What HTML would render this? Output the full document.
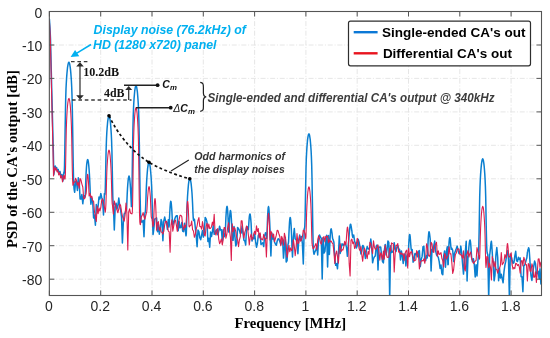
<!DOCTYPE html>
<html><head><meta charset="utf-8"><title>PSD of the CA's output</title>
<style>html,body{margin:0;padding:0;background:#fff;}svg{display:block;}</style></head>
<body>
<svg width="550" height="338" viewBox="0 0 550 338">
<rect width="550" height="338" fill="#fff"/>
<path d="M100.7,11.5 V295.5 M152.0,11.5 V295.5 M203.3,11.5 V295.5 M254.6,11.5 V295.5 M305.9,11.5 V295.5 M357.2,11.5 V295.5 M408.5,11.5 V295.5 M459.8,11.5 V295.5 M511.1,11.5 V295.5 M49.35,45.0 H541.5 M49.35,78.4 H541.5 M49.35,111.9 H541.5 M49.35,145.3 H541.5 M49.35,178.8 H541.5 M49.35,212.3 H541.5 M49.35,245.7 H541.5 M49.35,279.2 H541.5" stroke="#e3e3e3" stroke-width="0.9" stroke-dasharray="5 1.8 1 1.8" fill="none"/>
<clipPath id="c"><rect x="49.35" y="11.5" width="492.15" height="284.0"/></clipPath>
<g clip-path="url(#c)" fill="none" stroke-linejoin="round" stroke-linecap="round">
<path d="M49.40,19.0 L50.00,28.0 L50.50,39.0 L51.50,80.0 L53.30,150.0 L53.80,174.6 L55.20,166.0 L56.00,169.0 L56.60,167.5 L57.40,171.0 L58.20,169.5 L59.00,174.0 L60.00,171.5 L61.00,177.0 L62.00,174.5 L62.80,181.0 L63.40,178.0 L63.90,172.0 L64.20,173.3 L64.50,166.2 L64.80,150.4 L65.10,131.1 L65.40,113.9 L65.70,98.4 L66.00,89.0 L66.30,83.0 L66.60,78.0 L66.90,74.0 L67.20,70.7 L67.50,67.7 L68.10,64.1 L68.40,63.1 L68.70,62.4 L69.00,62.2 L69.60,63.5 L70.20,67.1 L70.50,69.7 L70.80,72.9 L71.10,76.7 L71.40,81.0 L71.70,87.0 L72.00,95.3 L72.30,108.4 L72.60,125.1 L72.90,144.3 L73.20,162.9 L73.50,177.6 L73.80,184.9 L74.10,189.1 L74.40,191.0 L74.70,192.3 L75.60,181.4 L76.50,181.8 L77.40,190.5 L78.30,177.8 L79.20,181.9 L80.10,199.0 L81.00,199.0 L81.90,194.5 L82.80,203.8 L83.70,195.8 L84.30,195.7 L84.60,195.6 L84.90,197.3 L85.20,196.5 L85.50,188.9 L85.80,179.9 L86.10,173.2 L86.40,168.1 L86.70,164.4 L87.00,162.2 L87.30,160.4 L87.60,159.6 L87.90,159.9 L88.20,160.9 L88.50,163.1 L88.80,165.9 L89.10,169.6 L89.40,174.1 L89.70,179.7 L90.00,186.6 L90.30,194.7 L90.60,199.9 L90.90,204.2 L91.80,198.0 L92.70,201.9 L93.60,218.0 L94.50,215.0 L95.40,225.2 L96.30,204.6 L97.20,209.9 L98.10,206.2 L99.00,197.1 L99.90,199.0 L100.80,193.4 L101.70,197.5 L102.60,200.4 L103.50,215.0 L104.10,200.8 L104.40,193.6 L104.70,194.5 L105.00,194.0 L105.30,188.6 L105.60,175.8 L105.90,159.6 L106.20,146.9 L106.50,138.8 L106.80,132.7 L107.10,128.3 L107.40,124.7 L107.70,121.3 L108.30,117.4 L108.60,116.5 L108.90,115.8 L109.20,116.0 L109.50,116.7 L109.80,118.1 L110.10,120.0 L110.40,122.3 L110.70,125.8 L111.00,129.8 L111.30,134.5 L111.60,140.9 L111.90,150.2 L112.20,165.5 L112.50,182.2 L112.80,196.6 L113.10,203.2 L113.40,204.9 L113.70,213.5 L114.00,221.8 L114.30,230.0 L115.20,207.4 L116.10,203.2 L117.00,209.0 L117.90,205.3 L118.80,198.0 L119.70,206.2 L120.60,209.8 L121.50,216.9 L122.40,243.0 L123.30,222.8 L124.20,213.8 L125.10,213.1 L125.70,210.6 L126.00,209.2 L126.30,210.5 L126.60,208.6 L127.20,194.2 L127.50,188.6 L127.80,184.2 L128.10,180.7 L128.40,178.3 L128.70,176.9 L129.00,176.0 L129.30,176.8 L129.60,178.1 L129.90,180.5 L130.20,184.0 L130.50,188.4 L130.80,193.7 L131.10,200.3 L131.40,206.6 L131.70,202.2 L132.00,188.2 L132.30,168.8 L132.60,148.2 L132.90,130.1 L133.20,116.9 L133.50,108.8 L133.80,102.7 L134.10,98.3 L134.40,94.6 L134.70,91.2 L135.30,87.3 L135.60,86.4 L135.90,85.7 L136.20,85.9 L136.50,86.6 L136.80,88.0 L137.10,89.9 L137.40,92.2 L137.70,95.8 L138.00,99.8 L138.30,104.4 L138.60,111.0 L138.90,120.3 L139.20,136.2 L139.50,154.9 L139.80,176.1 L140.10,195.3 L140.40,209.4 L140.70,217.6 L141.00,220.5 L141.30,221.9 L142.20,222.1 L143.10,220.3 L144.00,236.7 L144.60,221.0 L144.90,213.0 L145.20,212.6 L145.50,210.1 L145.80,203.5 L146.10,194.0 L146.40,186.4 L146.70,180.6 L147.00,176.0 L147.30,172.1 L147.60,168.5 L147.90,166.3 L148.20,164.4 L148.50,163.1 L148.80,162.4 L149.10,162.1 L149.40,162.8 L149.70,163.8 L150.30,167.7 L150.60,171.0 L150.90,174.5 L151.20,178.5 L151.50,184.0 L151.80,190.7 L152.10,199.7 L152.40,212.7 L152.70,224.7 L153.00,234.5 L153.30,233.0 L153.60,230.5 L153.90,227.8 L154.80,218.9 L155.70,218.7 L156.60,217.9 L157.50,231.7 L158.40,224.8 L159.30,234.2 L160.20,229.1 L161.10,219.6 L162.00,222.0 L162.90,240.8 L163.80,221.0 L164.70,217.1 L165.60,221.4 L166.50,222.3 L167.40,229.5 L168.30,219.8 L168.60,223.6 L168.90,227.0 L169.20,225.6 L169.50,218.5 L169.80,212.1 L170.10,207.1 L170.40,203.2 L170.70,201.3 L171.00,201.5 L171.30,203.9 L171.60,207.5 L171.90,211.5 L172.20,218.0 L172.50,222.9 L172.80,225.4 L173.70,221.9 L175.50,217.0 L176.40,215.8 L177.30,215.7 L178.20,230.7 L179.10,221.6 L180.00,227.8 L180.90,227.3 L181.80,222.6 L182.70,231.2 L183.60,231.6 L184.50,223.3 L185.10,227.9 L185.40,230.2 L185.70,233.5 L186.00,235.8 L186.30,234.0 L186.60,223.9 L186.90,211.5 L187.20,203.1 L187.50,197.0 L187.80,192.5 L188.10,188.6 L188.40,185.0 L188.70,182.6 L189.00,180.5 L189.30,179.4 L189.60,178.8 L189.90,178.7 L190.20,179.3 L190.50,180.0 L190.80,181.7 L191.10,183.4 L191.40,186.4 L191.70,189.5 L192.00,193.3 L192.30,198.3 L192.60,204.3 L192.90,211.8 L193.20,217.7 L193.50,220.4 L193.80,220.4 L194.10,219.8 L194.40,219.2 L195.30,227.6 L196.20,235.4 L197.10,246.8 L198.00,230.1 L198.90,231.6 L199.80,237.7 L200.70,239.8 L201.60,235.4 L202.50,230.5 L203.40,237.1 L204.30,231.6 L205.20,217.4 L206.10,218.9 L207.00,222.3 L207.90,241.5 L208.80,238.3 L209.70,247.3 L210.60,231.9 L211.50,236.5 L212.40,231.7 L213.30,225.4 L214.20,234.3 L215.10,232.7 L216.00,230.5 L216.90,229.6 L217.80,234.7 L218.70,231.4 L219.60,226.2 L220.50,230.0 L221.40,229.8 L222.30,241.0 L223.20,229.5 L224.10,236.8 L224.70,235.8 L225.00,235.2 L225.30,232.9 L225.60,225.5 L225.90,217.6 L226.20,213.0 L226.50,209.1 L226.80,206.9 L227.10,206.3 L227.40,207.8 L227.70,211.0 L228.00,216.7 L228.30,223.7 L228.60,232.0 L228.90,232.0 L229.20,225.6 L229.50,219.8 L229.80,215.1 L230.10,212.1 L230.40,210.5 L230.70,211.1 L231.00,213.6 L231.30,217.8 L231.60,223.6 L231.90,231.5 L232.20,239.2 L232.50,240.2 L233.10,240.3 L234.00,226.4 L234.90,236.4 L235.80,246.0 L236.70,243.2 L237.60,227.4 L238.50,228.7 L239.40,230.3 L240.30,233.6 L241.20,232.9 L242.10,226.1 L243.00,233.2 L243.90,240.1 L244.80,240.9 L245.70,245.0 L246.60,226.8 L247.50,227.0 L248.10,229.3 L248.40,229.6 L248.70,225.2 L249.00,220.8 L249.30,216.8 L249.60,214.9 L249.90,214.0 L250.20,214.5 L250.50,216.5 L250.80,219.6 L251.10,223.3 L251.40,230.1 L251.70,236.7 L252.00,241.0 L252.90,237.8 L253.80,238.7 L254.70,234.1 L255.60,241.7 L256.50,247.2 L257.40,243.5 L258.30,235.3 L259.20,233.8 L260.10,234.1 L261.00,244.5 L261.90,243.5 L262.80,242.7 L263.70,246.6 L264.60,236.1 L265.50,232.8 L266.40,235.3 L266.70,238.5 L267.00,234.5 L267.30,225.3 L267.60,217.1 L267.90,211.3 L268.20,207.8 L268.50,206.6 L268.80,207.8 L269.10,211.2 L269.40,216.2 L269.70,222.4 L270.00,229.2 L270.30,240.9 L270.60,248.7 L270.90,256.0 L271.80,233.0 L272.70,239.1 L273.60,237.7 L274.50,242.0 L275.40,244.0 L276.30,245.3 L277.20,241.0 L278.10,238.8 L279.00,239.2 L279.90,241.7 L280.80,244.4 L282.60,239.7 L283.50,258.1 L284.40,247.6 L285.30,237.4 L286.20,262.0 L287.10,260.5 L288.00,244.3 L288.30,243.6 L288.60,241.3 L288.90,234.5 L289.20,228.0 L289.50,222.6 L289.80,219.2 L290.10,217.6 L290.40,217.9 L290.70,220.0 L291.00,223.9 L291.30,229.2 L291.60,235.8 L291.90,245.4 L292.20,251.6 L292.50,256.9 L293.40,237.1 L294.30,228.6 L295.20,239.0 L296.10,239.6 L297.00,243.1 L297.90,253.8 L298.80,239.3 L299.70,235.1 L300.60,240.2 L301.50,236.6 L302.40,243.7 L303.30,264.0 L303.90,240.7 L304.20,228.9 L304.50,228.6 L304.80,226.0 L305.10,217.5 L305.40,201.2 L305.70,183.8 L306.00,168.4 L306.30,159.1 L306.60,152.6 L306.90,147.9 L307.20,143.9 L307.50,140.4 L307.80,138.1 L308.10,136.1 L308.40,134.8 L308.70,134.1 L309.00,133.9 L309.30,134.5 L309.60,135.5 L310.20,139.4 L310.50,142.8 L310.80,146.5 L311.10,150.8 L311.40,156.9 L311.70,165.1 L312.00,178.2 L312.30,196.0 L312.60,215.9 L312.90,233.5 L313.20,246.0 L313.50,251.5 L313.80,253.4 L314.10,254.3 L315.00,251.6 L315.90,249.8 L316.80,245.8 L317.70,255.0 L318.60,238.3 L319.50,234.9 L320.40,237.0 L321.30,238.4 L322.20,279.0 L323.10,237.8 L324.00,253.1 L324.90,251.5 L325.80,241.6 L326.70,235.2 L327.60,267.0 L328.50,235.6 L328.80,242.5 L329.10,249.4 L329.40,254.4 L329.70,246.7 L330.00,240.2 L330.30,234.8 L330.60,231.2 L330.90,229.2 L331.20,228.9 L331.50,230.0 L332.10,233.7 L332.40,236.8 L332.70,238.9 L333.00,239.2 L333.90,242.3 L334.80,258.0 L335.70,265.3 L336.60,263.7 L337.50,268.8 L338.40,255.2 L339.30,235.9 L340.20,253.4 L341.10,248.6 L342.00,243.8 L342.90,245.0 L343.80,245.2 L344.70,242.7 L345.60,243.8 L346.50,247.4 L347.40,256.3 L348.30,244.0 L348.60,241.6 L348.90,238.8 L349.20,234.5 L349.50,231.2 L349.80,228.1 L350.10,225.5 L350.40,224.2 L350.70,224.2 L351.00,225.6 L351.30,227.2 L351.60,229.3 L351.90,231.0 L352.20,234.3 L352.50,236.0 L352.80,237.3 L353.70,235.0 L354.60,241.3 L355.50,243.5 L356.40,248.1 L357.30,245.4 L358.20,239.2 L359.10,242.1 L360.00,246.9 L360.90,254.0 L361.80,251.5 L362.70,245.4 L363.60,246.3 L364.50,252.2 L365.40,258.5 L366.30,250.9 L367.20,246.5 L368.10,248.6 L369.00,249.2 L369.90,247.6 L370.80,239.1 L371.70,246.5 L372.60,262.8 L373.50,258.7 L374.40,256.7 L375.30,255.9 L376.20,246.3 L377.10,245.0 L378.00,270.0 L378.90,246.9 L379.80,247.3 L380.70,247.1 L381.60,255.6 L382.50,261.5 L383.40,262.9 L384.30,250.7 L385.20,244.4 L386.10,254.9 L387.00,249.9 L387.90,241.0 L388.80,242.5 L389.40,280.8 L389.70,298.5 L390.00,281.9 L390.60,245.8 L391.50,252.5 L392.40,252.0 L393.30,250.3 L394.20,242.7 L395.10,249.6 L396.00,251.5 L396.90,247.1 L397.80,245.7 L398.70,248.8 L399.60,249.6 L400.50,259.9 L401.40,250.9 L402.30,255.6 L403.20,263.5 L404.10,255.1 L405.00,253.9 L405.90,266.0 L406.80,256.1 L407.70,254.3 L408.00,256.9 L408.30,253.9 L408.90,241.9 L409.20,237.5 L409.50,234.9 L409.80,234.5 L410.10,236.1 L410.40,239.5 L410.70,243.8 L411.00,247.6 L411.30,249.8 L411.60,250.4 L412.20,249.6 L413.10,262.2 L414.00,260.0 L414.90,253.6 L415.80,254.7 L416.70,252.3 L417.60,256.8 L418.50,251.3 L419.40,250.6 L420.30,266.6 L421.20,259.6 L422.10,256.4 L423.00,246.7 L423.90,246.3 L424.80,260.4 L425.70,260.5 L426.60,255.4 L426.90,256.8 L427.20,258.0 L427.50,255.2 L427.80,247.6 L428.10,241.4 L428.40,236.5 L428.70,233.2 L429.00,231.7 L429.30,232.3 L429.60,234.1 L429.90,236.7 L430.20,239.0 L430.50,250.0 L430.80,261.6 L431.10,271.0 L432.00,249.3 L432.90,251.6 L433.80,245.6 L434.70,241.1 L435.60,250.8 L436.50,254.7 L437.40,256.0 L438.30,257.4 L439.20,261.7 L440.10,268.4 L441.00,265.0 L441.90,273.7 L442.80,274.7 L443.70,255.9 L444.60,250.9 L445.50,267.3 L446.40,251.4 L447.30,246.7 L447.60,256.1 L447.90,264.7 L448.20,264.4 L448.50,254.0 L448.80,247.0 L449.10,242.0 L449.40,239.0 L449.70,237.7 L450.00,237.9 L450.30,240.2 L450.90,247.0 L451.20,249.3 L451.50,249.2 L451.80,248.3 L452.70,250.4 L453.60,261.6 L454.50,253.4 L455.40,250.9 L456.30,248.6 L457.20,246.1 L458.10,250.6 L459.00,253.6 L459.90,253.6 L460.80,246.1 L461.70,253.3 L462.60,264.2 L463.50,274.1 L464.40,260.8 L465.30,252.1 L466.20,241.3 L467.10,281.0 L468.00,257.0 L468.30,255.3 L468.60,251.6 L468.90,247.0 L469.20,244.2 L469.50,241.8 L469.80,240.3 L470.10,240.0 L470.40,241.4 L470.70,243.9 L471.00,248.1 L471.60,257.0 L471.90,259.2 L472.50,261.7 L473.40,258.8 L474.30,264.7 L475.20,277.0 L476.10,264.8 L477.00,276.0 L477.60,266.0 L477.90,261.0 L478.20,258.3 L478.50,254.2 L478.80,246.1 L479.10,232.5 L479.70,197.1 L480.00,186.7 L480.30,179.8 L480.60,174.4 L480.90,170.2 L481.20,166.7 L481.50,163.8 L481.80,161.9 L482.10,160.1 L482.70,158.7 L483.30,160.1 L483.60,161.9 L483.90,163.8 L484.20,166.7 L484.50,170.2 L484.80,174.4 L485.10,179.8 L485.40,186.6 L485.70,196.8 L486.00,213.7 L486.30,230.2 L486.60,243.2 L486.90,250.8 L487.20,253.0 L487.50,253.9 L487.80,254.5 L488.40,284.8 L488.70,298.5 L489.00,286.1 L489.30,271.4 L489.60,255.4 L489.90,253.5 L490.50,247.8 L490.80,244.2 L491.10,242.3 L491.40,241.3 L491.70,244.4 L492.00,248.7 L492.30,253.5 L492.60,258.2 L492.90,260.3 L493.20,261.6 L494.10,280.8 L495.00,274.8 L495.90,255.1 L496.80,247.5 L497.70,257.4 L498.60,280.7 L499.50,268.6 L500.40,278.0 L501.30,274.2 L502.20,278.6 L503.10,282.8 L504.00,271.6 L504.90,265.1 L505.80,261.2 L506.70,253.5 L507.60,250.4 L508.50,259.8 L509.10,286.6 L509.40,298.5 L509.70,284.7 L510.30,254.0 L511.20,256.5 L512.10,260.0 L513.00,263.2 L513.90,262.8 L514.80,256.1 L515.70,251.3 L516.60,260.9 L517.50,261.5 L518.40,257.3 L519.30,259.5 L520.20,258.0 L521.10,276.8 L522.00,276.8 L522.90,291.7 L523.80,265.7 L524.70,265.3 L525.60,262.1 L526.50,258.8 L526.80,258.1 L527.10,255.7 L527.40,252.2 L527.70,251.2 L528.00,249.6 L528.30,248.7 L528.60,247.7 L528.90,248.4 L529.20,250.0 L529.50,254.2 L529.80,258.9 L530.10,263.7 L530.40,268.3 L530.70,272.1 L531.00,275.8 L531.90,280.4 L532.80,271.8 L533.70,266.5 L534.60,261.1 L535.50,263.7 L536.40,274.1 L537.30,273.4 L538.20,271.3 L539.10,278.7 L540.00,268.7 L540.90,284.0 L541.50,284.0" stroke="#0a7fd0" stroke-width="1.5"/>
<path d="M49.40,21.0 L49.90,30.0 L50.40,41.0 L51.30,80.0 L52.10,115.0 L53.00,150.0 L53.50,176.0 L54.90,167.0 L55.70,170.0 L56.30,168.5 L57.10,172.0 L57.90,170.5 L58.70,175.0 L59.70,172.5 L60.70,178.0 L61.70,175.5 L62.50,182.0 L63.10,179.0 L63.90,175.2 L64.50,178.0 L64.80,179.1 L65.10,178.6 L65.40,174.1 L65.70,161.0 L66.00,143.9 L66.30,129.6 L66.60,121.0 L66.90,114.7 L67.20,110.0 L67.50,106.2 L67.80,103.1 L68.10,101.0 L68.40,99.3 L68.70,98.6 L69.00,98.4 L69.30,99.1 L69.60,100.3 L69.90,102.4 L70.20,104.9 L70.50,108.7 L70.80,113.1 L71.10,118.6 L71.40,125.9 L71.70,137.5 L72.00,154.7 L72.30,170.2 L72.60,179.9 L72.90,185.3 L73.20,184.6 L73.50,183.4 L73.80,182.1 L74.70,182.3 L75.60,178.2 L76.50,180.3 L77.40,185.1 L78.30,182.4 L79.20,188.3 L80.10,178.6 L81.00,180.1 L81.90,184.1 L82.80,187.0 L83.70,198.3 L84.60,198.8 L85.50,195.7 L85.80,194.7 L86.10,193.5 L86.40,190.9 L86.70,185.0 L87.00,179.8 L87.30,175.7 L87.60,174.3 L87.90,175.0 L88.20,177.7 L88.50,182.8 L88.80,189.2 L89.10,196.0 L89.40,195.6 L90.00,193.3 L90.90,197.6 L91.80,196.2 L92.70,200.8 L93.60,201.2 L94.50,212.0 L95.40,216.5 L96.30,221.5 L97.20,206.0 L98.10,213.6 L99.00,208.0 L99.90,211.0 L100.80,207.7 L101.70,200.4 L102.60,198.9 L103.50,202.2 L105.00,210.7 L105.30,212.3 L105.60,209.2 L105.90,204.6 L106.20,195.6 L106.50,182.2 L106.80,172.8 L107.10,165.9 L107.40,161.6 L107.70,157.7 L108.00,154.5 L108.30,152.4 L108.60,150.9 L108.90,150.1 L109.20,150.4 L109.50,151.2 L109.80,153.3 L110.10,155.5 L110.40,159.2 L110.70,163.3 L111.00,168.8 L111.30,176.1 L111.60,187.3 L111.90,198.6 L112.20,203.8 L112.50,205.3 L112.80,208.4 L113.40,214.3 L114.30,201.0 L115.20,204.5 L116.10,206.1 L117.00,210.1 L117.90,212.7 L118.80,208.8 L119.70,204.1 L120.60,205.4 L121.50,211.3 L122.40,216.2 L123.30,219.2 L124.20,221.1 L125.10,214.9 L126.00,203.1 L126.90,213.0 L127.80,250.0 L128.70,211.9 L129.60,208.8 L130.50,213.2 L131.40,213.5 L131.70,213.8 L132.00,213.9 L132.30,212.2 L132.60,204.1 L132.90,186.1 L133.20,164.0 L133.50,144.0 L133.80,132.9 L134.10,125.3 L134.40,120.2 L134.70,115.9 L135.00,112.5 L135.30,110.2 L135.60,108.6 L135.90,107.8 L136.20,108.1 L136.50,108.9 L136.80,111.0 L137.10,113.3 L137.40,117.3 L137.70,121.9 L138.00,127.8 L138.30,136.0 L138.60,150.1 L138.90,171.4 L139.20,195.1 L139.50,213.6 L139.80,222.0 L140.10,224.3 L140.40,224.6 L141.30,217.1 L142.20,215.3 L143.10,212.6 L144.00,216.7 L144.90,219.2 L145.80,215.3 L146.40,213.2 L146.70,211.9 L147.00,209.2 L147.30,203.1 L147.60,197.8 L147.90,194.2 L148.20,190.7 L148.50,188.5 L148.80,187.0 L149.10,186.6 L149.40,187.6 L149.70,189.8 L150.00,192.7 L150.30,196.3 L150.60,202.3 L150.90,209.5 L151.20,216.3 L151.50,217.8 L151.80,218.5 L152.10,219.1 L153.00,226.7 L153.30,225.3 L153.60,222.7 L153.90,214.3 L154.20,207.5 L154.50,202.1 L154.80,199.1 L155.10,198.6 L155.40,200.8 L155.70,205.3 L156.00,212.9 L156.30,223.6 L156.60,230.3 L156.90,228.0 L157.50,222.8 L158.40,221.7 L159.30,230.4 L160.20,227.5 L161.10,232.0 L162.00,232.3 L162.90,234.1 L163.80,231.0 L164.70,224.9 L165.60,221.3 L166.50,221.2 L167.40,225.8 L168.30,231.0 L169.20,231.9 L170.10,252.3 L171.00,225.2 L171.90,219.7 L172.80,231.1 L173.70,226.2 L174.60,220.9 L175.50,220.1 L176.40,225.1 L177.30,231.5 L178.20,224.3 L179.10,219.9 L180.00,215.4 L180.90,215.3 L181.80,216.6 L182.70,226.4 L183.60,229.9 L184.50,225.0 L185.40,227.4 L185.70,226.2 L186.00,225.0 L186.30,221.0 L186.60,214.7 L186.90,208.6 L187.20,204.0 L187.50,201.3 L187.80,201.6 L188.10,204.6 L188.40,210.4 L188.70,217.9 L189.00,226.1 L189.30,226.9 L189.90,225.7 L190.80,225.4 L191.70,221.1 L192.60,229.8 L193.50,231.1 L194.40,237.3 L195.30,234.3 L196.20,229.3 L197.10,225.8 L198.00,220.4 L198.90,217.6 L199.80,226.5 L200.70,226.5 L201.60,229.2 L202.50,221.5 L203.40,227.9 L204.30,234.8 L205.20,236.0 L206.10,226.3 L207.00,223.2 L207.90,228.6 L208.80,224.1 L209.70,228.6 L210.60,228.2 L211.50,226.7 L212.40,222.1 L213.30,225.5 L214.20,214.3 L215.10,233.0 L216.00,235.1 L216.90,231.1 L217.80,228.5 L218.70,238.8 L219.60,243.7 L220.50,241.7 L221.40,238.9 L222.30,245.0 L223.20,239.6 L224.10,227.5 L225.00,227.5 L225.90,238.2 L226.80,234.3 L227.70,227.2 L228.60,222.7 L229.50,230.7 L230.40,237.1 L231.30,260.4 L232.20,223.8 L233.10,231.8 L234.00,227.6 L234.90,228.3 L235.80,231.7 L236.70,237.5 L237.60,239.6 L238.50,246.6 L239.40,240.0 L240.30,236.7 L241.20,220.9 L242.10,220.8 L243.00,231.1 L243.90,238.2 L244.80,232.4 L245.70,229.6 L246.60,226.0 L247.50,227.5 L248.40,235.2 L249.30,245.0 L250.20,237.1 L251.10,234.1 L252.00,239.8 L252.90,238.2 L253.80,233.7 L254.70,231.2 L255.60,234.4 L256.50,225.8 L257.40,231.5 L258.30,228.6 L259.20,237.9 L260.10,232.9 L261.00,239.5 L261.90,238.9 L262.80,240.0 L263.70,234.3 L264.60,238.5 L265.50,238.0 L266.40,257.0 L266.70,249.8 L267.00,242.1 L267.30,230.7 L267.60,224.2 L267.90,218.6 L268.20,214.9 L268.50,213.4 L268.80,215.0 L269.10,219.0 L269.40,225.4 L269.70,233.7 L270.00,239.9 L270.30,237.3 L270.90,231.1 L271.80,233.3 L272.70,237.3 L273.60,234.0 L274.50,241.6 L275.40,238.6 L276.30,235.2 L277.20,230.2 L278.10,230.8 L279.00,234.3 L279.90,236.8 L280.80,245.8 L281.70,236.4 L282.60,238.9 L283.50,245.2 L284.40,233.2 L285.30,237.1 L286.20,244.9 L287.10,257.3 L288.00,251.7 L288.90,245.4 L289.80,251.8 L290.70,247.8 L291.60,250.6 L292.50,249.0 L293.40,239.8 L294.30,246.1 L295.20,255.7 L296.10,247.4 L297.00,233.5 L297.90,243.6 L298.80,242.8 L299.70,236.1 L300.60,241.2 L301.50,239.7 L302.40,236.8 L303.30,230.1 L304.20,230.8 L305.10,234.6 L305.40,237.1 L305.70,238.7 L306.00,236.1 L306.30,224.6 L306.60,213.4 L306.90,206.1 L307.20,200.6 L307.50,196.2 L307.80,192.4 L308.10,190.1 L308.40,188.1 L308.70,187.2 L309.00,186.9 L309.30,187.7 L309.60,189.2 L309.90,191.4 L310.20,194.7 L310.50,198.9 L310.80,203.8 L311.10,211.0 L311.40,221.0 L311.70,235.1 L312.00,243.2 L312.30,245.3 L312.60,246.7 L312.90,247.8 L313.20,248.8 L314.10,247.6 L315.00,245.4 L315.90,243.5 L316.80,249.7 L317.70,240.0 L318.60,235.8 L319.50,238.7 L320.40,242.4 L321.30,244.2 L322.20,239.9 L323.10,237.7 L324.00,236.7 L324.90,242.0 L325.80,236.2 L326.70,236.8 L327.60,236.1 L328.50,242.6 L329.40,239.7 L330.30,241.8 L331.20,241.1 L332.10,242.9 L333.00,243.9 L333.90,251.9 L334.80,263.5 L335.70,254.2 L336.60,251.1 L337.50,256.6 L338.40,263.3 L339.30,249.5 L340.20,243.8 L341.10,251.6 L342.00,249.8 L342.90,250.1 L343.80,246.6 L344.70,241.3 L345.60,244.8 L345.90,243.9 L346.20,241.7 L346.50,236.9 L346.80,232.6 L347.10,229.1 L347.40,227.1 L347.70,227.5 L348.00,229.7 L348.30,233.2 L348.60,242.8 L348.90,254.9 L349.20,263.9 L349.50,268.0 L350.10,276.0 L351.00,240.4 L351.90,239.0 L352.80,243.7 L353.70,241.9 L354.60,248.4 L355.50,246.5 L356.40,243.6 L357.30,238.2 L358.20,242.0 L359.10,248.7 L360.00,250.5 L360.90,246.6 L361.80,254.8 L362.70,261.3 L363.60,252.5 L364.50,248.1 L365.40,251.1 L366.30,255.1 L367.20,258.6 L368.10,251.5 L369.00,254.3 L369.90,242.2 L370.80,243.9 L371.70,248.1 L372.60,253.6 L373.50,240.9 L374.40,247.1 L375.30,249.4 L376.20,248.7 L377.10,246.5 L378.00,244.9 L378.90,251.8 L379.80,260.2 L380.70,252.8 L381.60,254.5 L382.50,259.8 L383.40,251.1 L384.30,259.1 L385.20,245.3 L386.10,251.5 L387.00,257.1 L387.90,257.5 L388.80,257.0 L389.70,248.1 L390.60,251.1 L391.50,242.9 L392.40,243.4 L393.30,244.2 L394.20,272.0 L395.10,254.5 L396.00,245.3 L396.90,245.4 L397.80,243.6 L398.70,252.1 L399.60,251.4 L400.50,254.1 L401.40,253.0 L402.30,254.8 L403.20,253.6 L404.10,260.4 L405.00,253.5 L405.90,251.2 L406.80,250.2 L407.70,268.0 L408.60,248.3 L409.50,256.8 L410.40,252.7 L411.30,251.4 L412.20,254.6 L413.10,257.2 L414.00,260.9 L414.90,260.6 L415.80,259.9 L416.70,250.6 L417.60,252.7 L418.50,254.9 L419.40,269.0 L420.30,262.3 L421.20,261.0 L422.10,260.6 L423.00,260.9 L423.90,258.7 L424.80,263.3 L425.70,257.5 L426.60,243.7 L427.50,247.3 L428.40,255.4 L429.30,256.3 L430.20,254.3 L431.10,242.3 L432.00,243.7 L432.90,251.2 L433.80,252.5 L434.70,245.9 L435.60,244.2 L436.50,242.2 L437.40,256.3 L438.30,250.8 L439.20,254.4 L440.10,253.9 L441.00,252.7 L441.90,258.5 L442.80,260.8 L443.70,267.0 L444.60,253.6 L445.50,255.3 L446.40,259.1 L447.30,257.1 L448.20,255.4 L449.10,246.7 L450.00,254.0 L450.90,253.7 L451.80,262.4 L452.70,273.4 L453.60,270.0 L454.50,261.2 L455.40,254.5 L456.30,253.0 L457.20,249.4 L458.10,248.8 L459.00,249.5 L459.90,254.2 L461.70,255.5 L462.60,258.3 L463.50,250.9 L464.40,268.6 L465.30,271.0 L466.20,255.5 L467.10,253.9 L468.00,250.6 L468.90,257.2 L469.80,253.7 L470.70,252.1 L471.60,258.7 L472.50,259.9 L473.40,263.4 L475.20,261.2 L476.10,260.3 L477.00,247.5 L477.90,251.4 L478.80,256.2 L479.10,257.9 L479.40,259.1 L479.70,257.8 L480.00,249.2 L480.30,236.9 L480.60,228.5 L480.90,222.0 L481.20,217.2 L481.50,213.1 L481.80,210.5 L482.10,208.3 L482.40,207.2 L482.70,206.3 L483.00,206.9 L483.30,207.7 L483.60,210.1 L483.90,212.9 L484.20,217.1 L484.50,222.0 L484.80,228.6 L485.10,237.7 L485.40,251.6 L485.70,263.2 L486.00,267.5 L486.30,264.5 L486.60,260.5 L486.90,256.5 L487.80,257.4 L488.70,267.7 L489.60,263.4 L490.50,267.3 L491.40,280.0 L492.30,256.6 L493.20,261.7 L494.10,267.0 L495.00,261.5 L495.90,269.1 L496.80,269.5 L497.70,273.1 L498.60,269.6 L499.50,268.5 L500.40,265.3 L501.30,252.6 L502.20,264.6 L503.10,263.5 L504.00,261.4 L504.90,254.6 L505.50,256.4 L506.10,258.0 L506.40,255.0 L506.70,251.2 L507.00,246.5 L507.30,243.9 L507.60,243.5 L507.90,245.7 L508.20,249.3 L508.50,253.2 L508.80,256.5 L509.10,257.0 L509.40,257.1 L510.30,255.8 L511.20,252.9 L512.10,264.7 L513.00,269.1 L513.90,267.5 L514.80,268.6 L515.70,263.3 L516.60,263.8 L517.50,265.6 L518.40,264.5 L519.30,266.9 L520.20,273.2 L521.10,261.3 L522.00,260.4 L522.90,266.0 L523.80,257.2 L524.70,260.2 L525.60,264.3 L526.50,264.7 L527.40,281.0 L528.30,263.6 L529.20,264.6 L530.10,271.2 L531.00,271.1 L531.90,263.7 L532.80,266.8 L533.70,277.1 L534.60,277.1 L535.50,271.7 L536.40,282.4 L537.30,271.9 L538.20,259.0 L539.10,258.8 L540.00,267.4 L540.90,262.0 L541.50,262.0" stroke="#dc1f4e" stroke-width="1.1"/>
</g>
<path d="M49.4,295.5 v-5 M49.4,11.5 v5 M100.7,295.5 v-5 M100.7,11.5 v5 M152.0,295.5 v-5 M152.0,11.5 v5 M203.3,295.5 v-5 M203.3,11.5 v5 M254.6,295.5 v-5 M254.6,11.5 v5 M305.9,295.5 v-5 M305.9,11.5 v5 M357.2,295.5 v-5 M357.2,11.5 v5 M408.5,295.5 v-5 M408.5,11.5 v5 M459.8,295.5 v-5 M459.8,11.5 v5 M511.1,295.5 v-5 M511.1,11.5 v5 M49.35,11.5 h5 M541.5,11.5 h-5 M49.35,45.0 h5 M541.5,45.0 h-5 M49.35,78.4 h5 M541.5,78.4 h-5 M49.35,111.9 h5 M541.5,111.9 h-5 M49.35,145.3 h5 M541.5,145.3 h-5 M49.35,178.8 h5 M541.5,178.8 h-5 M49.35,212.3 h5 M541.5,212.3 h-5 M49.35,245.7 h5 M541.5,245.7 h-5 M49.35,279.2 h5 M541.5,279.2 h-5" stroke="#555555" stroke-width="1" fill="none"/>
<rect x="49.35" y="11.5" width="492.15" height="284.0" fill="none" stroke="#555555" stroke-width="1.1"/>
<g font-family="Liberation Sans, Arial, sans-serif" font-size="14" fill="#262626">
<text x="49.0" y="311.4" text-anchor="middle">0</text>
<text x="100.2" y="311.4" text-anchor="middle">0.2</text>
<text x="151.6" y="311.4" text-anchor="middle">0.4</text>
<text x="202.9" y="311.4" text-anchor="middle">0.6</text>
<text x="254.2" y="311.4" text-anchor="middle">0.8</text>
<text x="305.5" y="311.4" text-anchor="middle">1</text>
<text x="356.8" y="311.4" text-anchor="middle">1.2</text>
<text x="408.1" y="311.4" text-anchor="middle">1.4</text>
<text x="459.4" y="311.4" text-anchor="middle">1.6</text>
<text x="510.7" y="311.4" text-anchor="middle">1.8</text>
<text x="42.3" y="17.5" text-anchor="end">0</text>
<text x="42.3" y="51.0" text-anchor="end">-10</text>
<text x="42.3" y="84.4" text-anchor="end">-20</text>
<text x="42.3" y="117.9" text-anchor="end">-30</text>
<text x="42.3" y="151.3" text-anchor="end">-40</text>
<text x="42.3" y="184.8" text-anchor="end">-50</text>
<text x="42.3" y="218.3" text-anchor="end">-60</text>
<text x="42.3" y="251.7" text-anchor="end">-70</text>
<text x="42.3" y="285.2" text-anchor="end">-80</text>
</g>
<g font-family="Liberation Serif, Times New Roman, serif" font-weight="bold" fill="#000">
<text x="290.4" y="328.2" font-size="14.67" text-anchor="middle">Frequency [MHz]</text>
<text transform="translate(16.6,159.1) rotate(-90)" font-size="14.67" text-anchor="middle">PSD of the CA's output [dB]</text>
</g>
<rect x="348.5" y="21.1" width="182" height="44.7" rx="2" fill="#fff" stroke="#2e2e2e" stroke-width="1.2"/>
<path d="M353.7,32.2 H377.6" stroke="#0b78d6" stroke-width="2.4"/>
<path d="M353.7,53.3 H377.6" stroke="#e8141e" stroke-width="2.4"/>
<g font-family="Liberation Sans, Arial, sans-serif" font-weight="bold" font-size="13.5" fill="#000">
<text x="381.9" y="36.8" textLength="143.6" lengthAdjust="spacingAndGlyphs">Single-ended CA's out</text>
<text x="382.9" y="58" textLength="129" lengthAdjust="spacingAndGlyphs">Differential CA's out</text>
</g>
<g font-family="Liberation Sans, Arial, sans-serif" font-weight="bold" font-style="italic" font-size="12.35" fill="#00b0f0">
<text x="93.6" y="34.1">Display noise (76.2kHz) of</text>
<text x="93.0" y="49.2">HD (1280 x720) panel</text>
</g>
<path d="M91,44.5 L76,53.6" stroke="#00b0f0" stroke-width="1.5" fill="none"/>
<path d="M70.6,56.9 L75.1,50.1 L79.3,56.3 Z" fill="#00b0f0"/>
<path d="M71,61.6 H89 M72,100 H131.5" stroke="#3a3a3a" stroke-width="1.3" stroke-dasharray="3.6 2.8" fill="none"/>
<path d="M80,65 V97" stroke="#2b2b2b" stroke-width="1.2"/>
<path d="M80,62.2 L76.2,66.6 L83.8,66.6 Z M80,99.6 L76.2,95.2 L83.8,95.2 Z" fill="#2b2b2b"/>
<path d="M128.7,88 V100" stroke="#2b2b2b" stroke-width="1.2"/>
<path d="M128.7,86 L125.2,90 L132.2,90 Z" fill="#2b2b2b"/>
<g font-family="Liberation Serif, Times New Roman, serif" font-weight="bold" font-size="12" fill="#111">
<text x="83.2" y="75.5" textLength="36" lengthAdjust="spacingAndGlyphs">10.2dB</text>
<text x="104" y="97.2" textLength="20.5" lengthAdjust="spacingAndGlyphs">4dB</text>
</g>
<path d="M124,85.2 H157.6 M136,107.7 H170.7" stroke="#222" stroke-width="1.5" fill="none"/>
<circle cx="157.6" cy="85.2" r="1.9" fill="#111"/><circle cx="170.7" cy="107.7" r="1.9" fill="#111"/>
<g font-family="Liberation Sans, Arial, sans-serif" font-weight="bold" font-style="italic" fill="#111">
<text x="162.3" y="88.3" font-size="10.5">C<tspan font-size="7.8" dy="2">m</tspan></text>
<text x="173.3" y="111.8" font-size="10.5"><tspan font-weight="normal">Δ</tspan>C<tspan font-size="7.8" dy="2">m</tspan></text>
</g>
<path d="M200.2,82.3 C203.6,82.6 203.4,85 203.4,88 V93 C203.4,95.6 203.8,96.6 206.2,96.9 C203.8,97.2 203.4,98.2 203.4,100.8 V106 C203.4,109 203.6,111 200.2,111.4" stroke="#222" stroke-width="1.2" fill="none"/>
<g font-family="Liberation Sans, Arial, sans-serif" font-weight="bold" font-style="italic" fill="#3c3c3c">
<text x="207.5" y="101.6" font-size="12" textLength="287" lengthAdjust="spacingAndGlyphs">Single-ended and differential CA's output @ 340kHz</text>
<text x="194.3" y="159.7" font-size="10.5" fill="#333" textLength="90.8" lengthAdjust="spacingAndGlyphs">Odd harmonics of</text>
<text x="194.3" y="172.8" font-size="10.5" fill="#333" textLength="90.4" lengthAdjust="spacingAndGlyphs">the display noises</text>
</g>
<path d="M109,115.7 C114,126 121,138 134.5,151.2 C142,158 147,161 149,162.3 C158,167.5 172,174 189.8,178.8" stroke="#111" stroke-width="1.7" stroke-dasharray="2.8 2.5" fill="none"/>
<circle cx="109" cy="115.7" r="1.8" fill="#000"/><circle cx="149" cy="162.3" r="1.8" fill="#000"/><circle cx="189.8" cy="178.8" r="1.8" fill="#000"/>
<path d="M171,171 L188.8,160" stroke="#222" stroke-width="1.1"/>
</svg>
</body></html>
